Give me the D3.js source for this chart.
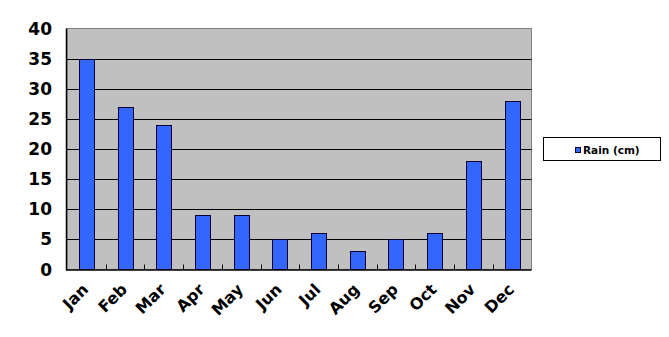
<!DOCTYPE html>
<html><head><meta charset="utf-8">
<script src="https://cdn.jsdelivr.net/npm/d3@7"></script>
<style>body{margin:0;background:#fff}svg{display:block}</style>
</head><body>
<svg id="c" width="669" height="337"></svg>
<script>
const months = ["Jan","Feb","Mar","Apr","May","Jun","Jul","Aug","Sep","Oct","Nov","Dec"];
const rain = [35,27,24,9,9,5,6,3,5,6,18,28];
const yTicks = [0,5,10,15,20,25,30,35,40];
const seriesName = "Rain (cm)";

const svg = d3.select("#c");
const L = 67, R = 531.5, T = 28.5, B = 269.5;
const x = d3.scaleBand().domain(months).range([L, R]).paddingInner(0.61).paddingOuter(0.305);
const xb = d3.scaleBand().domain(months).range([L, R]);
const y = d3.scaleLinear().domain([0, 40]).range([B, T]);

svg.append("rect").attr("x", L).attr("y", T).attr("width", R - L).attr("height", B - T)
  .attr("fill", "#C0C0C0").attr("stroke", "#808080").attr("stroke-width", 1);

svg.append("g").selectAll("line").data(yTicks.filter(d => d > 0 && d < 40)).join("line")
  .attr("x1", L).attr("x2", R).attr("y1", d => Math.round(y(d)) + 0.5).attr("y2", d => Math.round(y(d)) + 0.5)
  .attr("stroke", "#000").attr("stroke-width", 1);

svg.append("g").selectAll("rect").data(rain).join("rect")
  .attr("x", (d, i) => Math.round(x(months[i])) + 0.5)
  .attr("width", Math.round(x.bandwidth()))
  .attr("y", d => Math.round(y(d)) + 0.5)
  .attr("height", d => B - Math.round(y(d)) - 0.5)
  .attr("fill", "#3366FF").attr("stroke", "#000033").attr("stroke-width", 1);

// x ticks pointing inward
svg.append("g").selectAll("line").data(months.slice(1)).join("line")
  .attr("x1", d => Math.round(xb(d)) + 0.5).attr("x2", d => Math.round(xb(d)) + 0.5)
  .attr("y1", B).attr("y2", B - 5).attr("stroke", "#000");

// axes lines
svg.append("line").attr("x1", L - 0.5).attr("x2", L - 0.5).attr("y1", T).attr("y2", B + 1).attr("stroke", "#000").attr("stroke-width", 1.5);
svg.append("line").attr("x1", L - 1).attr("x2", R).attr("y1", B + 0.5).attr("y2", B + 0.5).attr("stroke", "#000").attr("stroke-width", 1.5);

// y labels
svg.append("g").selectAll("text").data(yTicks).join("text")
  .attr("x", 52).attr("y", d => y(d)).attr("dy", "0.36em")
  .attr("text-anchor", "end")
  .style("font", "bold 17px Verdana, 'DejaVu Sans', sans-serif")
  .text(d => d);

// x labels rotated
svg.append("g").selectAll("text").data(months).join("text")
  .attr("transform", d => `translate(${xb(d) + xb.bandwidth() / 2 + 3},${B + 21}) rotate(-45)`)
  .attr("text-anchor", "end")
  .style("font", "bold 16px Verdana, 'DejaVu Sans', sans-serif")
  .text(d => d);

// legend
const lg = svg.append("g");
lg.append("rect").attr("x", 543.5).attr("y", 137.5).attr("width", 117).attr("height", 23)
  .attr("fill", "#fff").attr("stroke", "#000");
lg.append("rect").attr("x", 575.5).attr("y", 147.5).attr("width", 5).attr("height", 5)
  .attr("fill", "#3366FF").attr("stroke", "#000033");
lg.append("text").attr("x", 583).attr("y", 154)
  .style("font", "bold 10.5px Verdana, 'DejaVu Sans', sans-serif")
  .text(seriesName);
</script>
</body></html>
